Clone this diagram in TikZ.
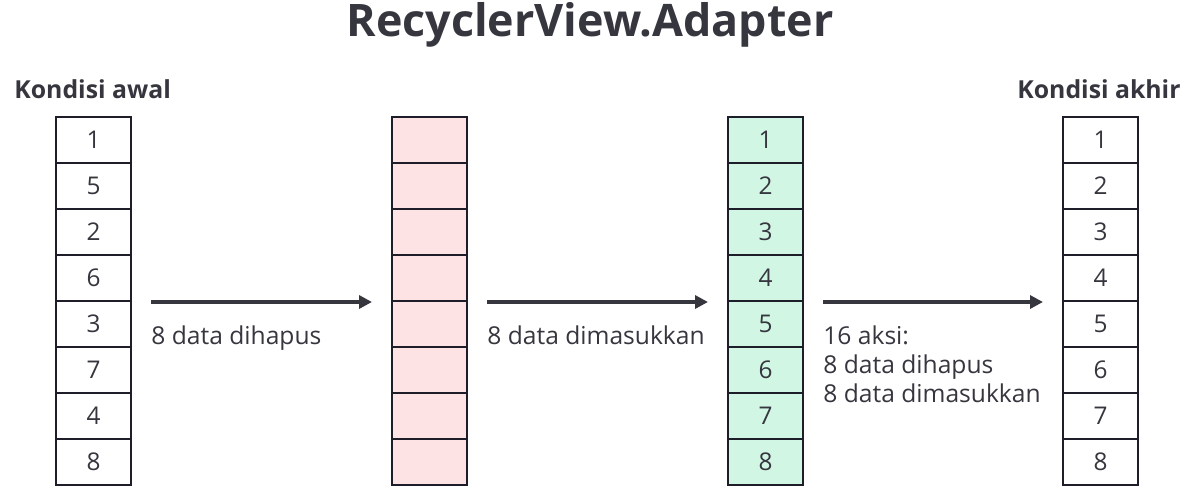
\documentclass[tikz,border=0pt]{standalone}
\usepackage{fontspec}
\setmainfont{Open Sans}
\usetikzlibrary{positioning,arrows.meta}

\definecolor{inkgray}{HTML}{36363F}
\definecolor{cellline}{HTML}{1E1E2A}
\definecolor{hapuspink}{HTML}{FDE3E3}
\definecolor{masukgreen}{HTML}{D2F6E4}

\begin{document}
\begin{tikzpicture}[x=0.5pt,y=-0.5pt,
    cell/.style		= {rectangle, draw=cellline, line width=1pt, minimum width=37.5pt, minimum height=23pt, inner sep=0pt, text=inkgray, font=\fontsize{12.2}{14}\selectfont},
    kosong/.style	= {cell, fill=hapuspink},
    isi/.style		= {cell, fill=masukgreen},
    judul/.style	= {text=inkgray, font=\bfseries\fontsize{22.4}{27}\selectfont, inner sep=0pt},
    kepala/.style	= {text=inkgray, font=\bfseries\fontsize{12.4}{15}\selectfont, inner sep=0pt},
    catatan/.style	= {text=inkgray, font=\fontsize{12.3}{14.5}\selectfont, inner sep=0pt, align=left},
    panah/.style	= {draw=inkgray, line width=2pt, -{Triangle[length=6.5pt,width=6.5pt]}, shorten <=9.5pt, shorten >=9.5pt}
    ]

\useasboundingbox (0,0) rectangle (1200,488);

% judul
\node[judul, anchor=base] (title) at (590,36) {RecyclerView.Adapter};

% kolom kondisi awal
\foreach \v [count=\i] in {1,5,2,6,3,7,4,8}
    \node[cell] (awal-\i) at (93.5,{117+46*\i-23}) {\v};

% kolom kosong
\foreach \i in {1,...,8}
    \node[kosong] (hapus-\i) at (429.5,{117+46*\i-23}) {};

% kolom data baru
\foreach \i in {1,...,8}
    \node[isi] (masuk-\i) at (765.5,{117+46*\i-23}) {\i};

% kolom kondisi akhir
\foreach \i in {1,...,8}
    \node[cell] (akhir-\i) at (1100.5,{117+46*\i-23}) {\i};

\node[kepala, anchor=base west] (awal-label) at (14,98) {Kondisi awal};
\node[kepala, anchor=base east] (akhir-label) at (1181,98) {Kondisi akhir};

% panah
\draw[panah] (awal-4.south east) -- (hapus-4.south west);
\draw[panah] (hapus-4.south east) -- (masuk-4.south west);
\draw[panah] (masuk-4.south east) -- (akhir-4.south west);

\node[catatan, anchor=base west] (lbl-hapus) at ([xshift=9.5pt,yshift=-21pt]awal-4.south east) {8 data dihapus};
\node[catatan, anchor=base west] (lbl-masuk) at ([xshift=9.5pt,yshift=-21pt]hapus-4.south east) {8 data dimasukkan};
% base = last line
\node[catatan, anchor=base west] (lbl-aksi) at ([xshift=9.5pt,yshift=-50pt]masuk-4.south east) {16 aksi:\\8 data dihapus\\8 data dimasukkan};

\end{tikzpicture}
\end{document}
